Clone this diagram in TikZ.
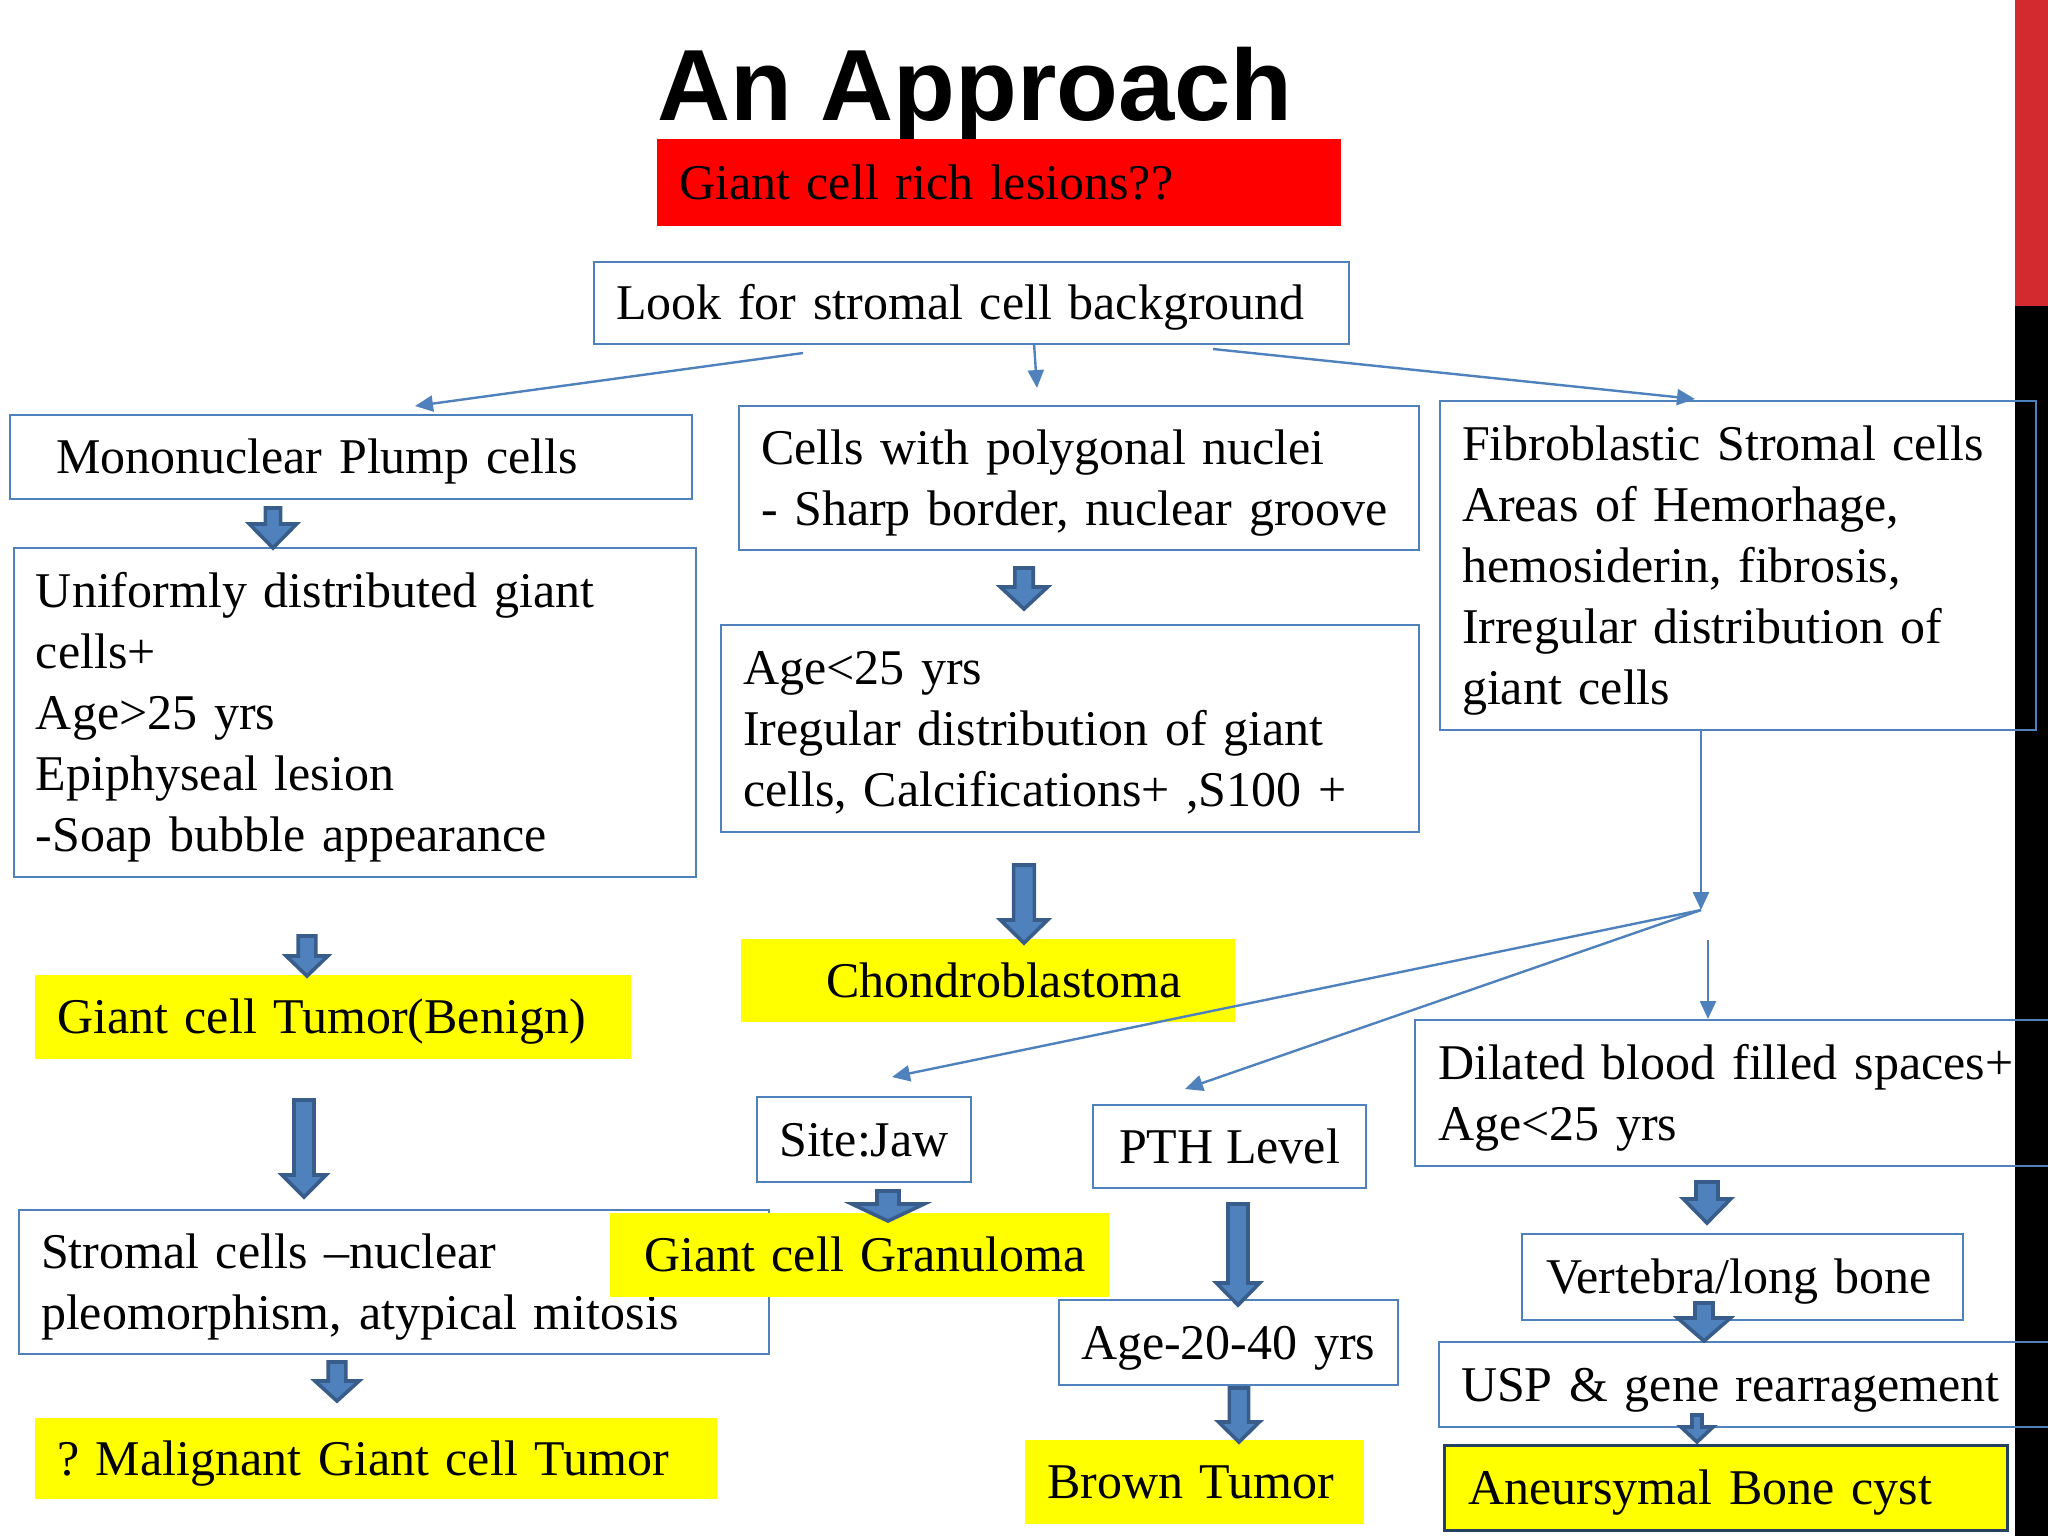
\documentclass[tikz,border=0pt]{standalone}
\usepackage{fontspec}
\setmainfont{Liberation Serif}
\newfontfamily\titlefont{Liberation Sans}
\usetikzlibrary{arrows.meta,calc}
\frenchspacing

\definecolor{boxline}{RGB}{79,129,189}
\definecolor{arrowfill}{RGB}{79,129,189}
\definecolor{arrowline}{RGB}{56,93,138}
\definecolor{hlyellow}{RGB}{255,255,0}
\definecolor{qred}{RGB}{255,0,0}
\definecolor{barred}{RGB}{211,42,48}
\definecolor{abcline}{RGB}{38,64,96}

% line strut with the ascent and descent of the serif face
\newcommand{\linestrut}{\rule[-2.7pt]{0pt}{13.84pt}}

\tikzset{
  box/.style={draw=boxline, line width=0.5pt, anchor=north west, align=left,
    inner xsep=5.5pt, inner ysep=0pt, font=\fontsize{12.5}{15.3}\selectfont,
    execute at begin node=\linestrut, execute at end node=\linestrut},
  cbox/.style={box, align=center},
  endbox/.style={box, draw=none, fill=hlyellow},
  link/.style={draw=boxline, line width=0.6pt, -{Triangle[length=4.5pt,width=4pt]}},
  fatarrow/.style={fill=arrowfill, draw=arrowline, line width=0.9pt, line join=miter},
}

% block arrow: tail, tip, shaft half width, head half width, head length
\newcommand{\fatarrow}[5]{%
  \draw[fatarrow] let \p1=(#1), \p2=(#2) in
    (\x1-#3,\y1) -- (\x1+#3,\y1) -- (\x1+#3,\y2+#5) -- (\x1+#4,\y2+#5)
    -- (\x1,\y2) -- (\x1-#4,\y2+#5) -- (\x1-#3,\y2+#5) -- cycle;}

\begin{document}
\begin{tikzpicture}[x=0.25pt, y=-0.25pt]
  \useasboundingbox (0,0) rectangle (2048,1536);

  % side bar
  \fill[barred] (2015,0) rectangle (2048,306);
  \fill[black] (2015,306) rectangle (2048,1536);

  % heading
  \node[font=\titlefont\bfseries\fontsize{25.3}{30}\selectfont, anchor=base, inner sep=0pt]
    (title) at (975,120) {An Approach};
  \node[box, draw=none, fill=qred, text width=160pt, minimum height=21.75pt]
    (question) at (656,138) {Giant cell rich lesions??};

  \node[box, text width=177.75pt, minimum height=20.5pt] (look) at (593,261)
    {Look for stromal cell background};

  % left column
  \node[box, text width=159.5pt, minimum height=21pt] (mono) at (9,414)
    {\hspace*{6pt}Mononuclear Plump cells};
  \node[box, text width=159.5pt, minimum height=82.25pt] (unif) at (13,547)
    {Uniformly distributed giant\\cells+\\Age>25 yrs\\Epiphyseal lesion\\-Soap bubble appearance};
  \node[endbox, text width=138pt, minimum height=21pt] (gct) at (34,974)
    {\mbox{Giant cell Tumor(Benign)}};
  \node[box, text width=176.5pt, minimum height=36pt] (stromal) at (18,1209)
    {Stromal cells –nuclear\\pleomorphism, atypical mitosis};
  \node[endbox, text width=159.5pt, minimum height=20.25pt] (malig) at (34,1417)
    {? Malignant Giant cell Tumor};

  % middle column
  \node[box, text width=159pt, minimum height=36pt] (poly) at (738,405)
    {Cells with polygonal nuclei\\\mbox{- Sharp border, nuclear groove}};
  \node[box, text width=163.5pt, minimum height=51.75pt] (age25) at (720,624)
    {Age<25 yrs\\Iregular distribution of giant\\cells, Calcifications+ ,S100 +};
  \node[endbox, text width=112.5pt, minimum height=20.75pt] (chondro) at (740,938)
    {\hspace*{15.75pt}Chondroblastoma};
  \node[cbox, minimum width=53.5pt, minimum height=21.25pt] (jaw) at (756,1096) {Site:Jaw};
  \node[cbox, minimum width=68.25pt, minimum height=20.75pt] (pth) at (1092,1104) {PTH Level};
  \node[endbox, text width=113.75pt, minimum height=21pt] (gran) at (609,1212)
    {\mbox{\hspace*{3pt}Giant cell Granuloma}};
  \node[box, text width=73.75pt, minimum height=21.25pt] (age2040) at (1058,1299)
    {\mbox{Age-20-40 yrs}};
  \node[endbox, text width=73.75pt, minimum height=21pt] (brown) at (1024,1439)
    {\mbox{Brown Tumor}};

  % right column
  \node[box, text width=138pt, minimum height=82.25pt] (fibro) at (1439,400)
    {Fibroblastic Stromal cells\\Areas of Hemorhage,\\hemosiderin, fibrosis,\\Irregular distribution of\\giant cells};
  \node[box, inner xsep=5.75pt, text width=153.5pt, minimum height=36.5pt] (dilated) at (1414,1019)
    {Dilated blood filled spaces+\\Age<25 yrs};
  \node[box, inner xsep=6pt, text width=98.25pt, minimum height=21.5pt] (vert) at (1521,1233)
    {\mbox{Vertebra/long bone}};
  \node[box, text width=149pt, minimum height=21.25pt] (usp) at (1438,1341)
    {USP \& gene rearragement};
  \node[endbox, draw=abcline, line width=0.7pt, inner xsep=6pt, text width=128.75pt,
    minimum height=21.25pt] (abc) at (1443,1444) {Aneursymal Bone cyst};

  % thin connectors
  \coordinate (lk1) at (803,353);
  \coordinate (mn) at (415,406);
  \coordinate (lk2) at (1034,343);
  \coordinate (pl) at (1037,388);
  \coordinate (lk3) at (1213,349);
  \coordinate (fb) at (1695,399);
  \coordinate (hub) at (1701,910);
  \coordinate (jw) at (892,1077);
  \coordinate (pt) at (1185,1089);
  \coordinate (dl) at (1708,940);

  \draw[link] (lk1) -- (mn);
  \draw[link] (lk2) -- (pl);
  \draw[link] (lk3) -- (fb);
  \draw[link] (fibro.south -| hub) -- (hub);
  \draw[link] (hub) -- (jw);
  \draw[link] (hub) -- (pt);
  \draw[link] (dl) -- (dilated.north -| dl);

  % block arrows
  \coordinate (a1) at (273,508);   \coordinate (b1) at (273,548);
  \coordinate (a2) at (1024,568);  \coordinate (b2) at (1024,609);
  \coordinate (a3) at (307,936);   \coordinate (b3) at (307,976);
  \coordinate (a4) at (1024,865);  \coordinate (b4) at (1024,943);
  \coordinate (a5) at (304,1100);  \coordinate (b5) at (304,1197);
  \coordinate (a6) at (337,1362);  \coordinate (b6) at (337,1401);
  \coordinate (a7) at (888,1191);  \coordinate (b7) at (888,1221);
  \coordinate (a8) at (1238,1204); \coordinate (b8) at (1238,1305);
  \coordinate (a9) at (1239,1388); \coordinate (b9) at (1239,1442);
  \coordinate (a10) at (1707,1182); \coordinate (b10) at (1707,1223);
  \coordinate (a11) at (1704,1303); \coordinate (b11) at (1704,1341);
  \coordinate (a12) at (1697,1415); \coordinate (b12) at (1697,1442);

  \fatarrow{a1}{b1}{1.9pt}{5.9pt}{6pt}
  \fatarrow{a2}{b2}{2.3pt}{5.9pt}{5.5pt}
  \fatarrow{a3}{b3}{2.2pt}{5.2pt}{5pt}
  \fatarrow{a4}{b4}{2.6pt}{5.9pt}{5.75pt}
  \fatarrow{a5}{b5}{2.5pt}{5.5pt}{5.5pt}
  \fatarrow{a6}{b6}{2.2pt}{5.5pt}{5pt}
  \fatarrow{a7}{b7}{2.75pt}{9pt}{4.25pt}
  \fatarrow{a8}{b8}{2.5pt}{5.4pt}{5.5pt}
  \fatarrow{a9}{b9}{2.4pt}{5.1pt}{5pt}
  \fatarrow{a10}{b10}{2.75pt}{5.9pt}{6pt}
  \fatarrow{a11}{b11}{2.25pt}{6.6pt}{5.75pt}
  \fatarrow{a12}{b12}{1.25pt}{4pt}{3.75pt}
\end{tikzpicture}
\end{document}
